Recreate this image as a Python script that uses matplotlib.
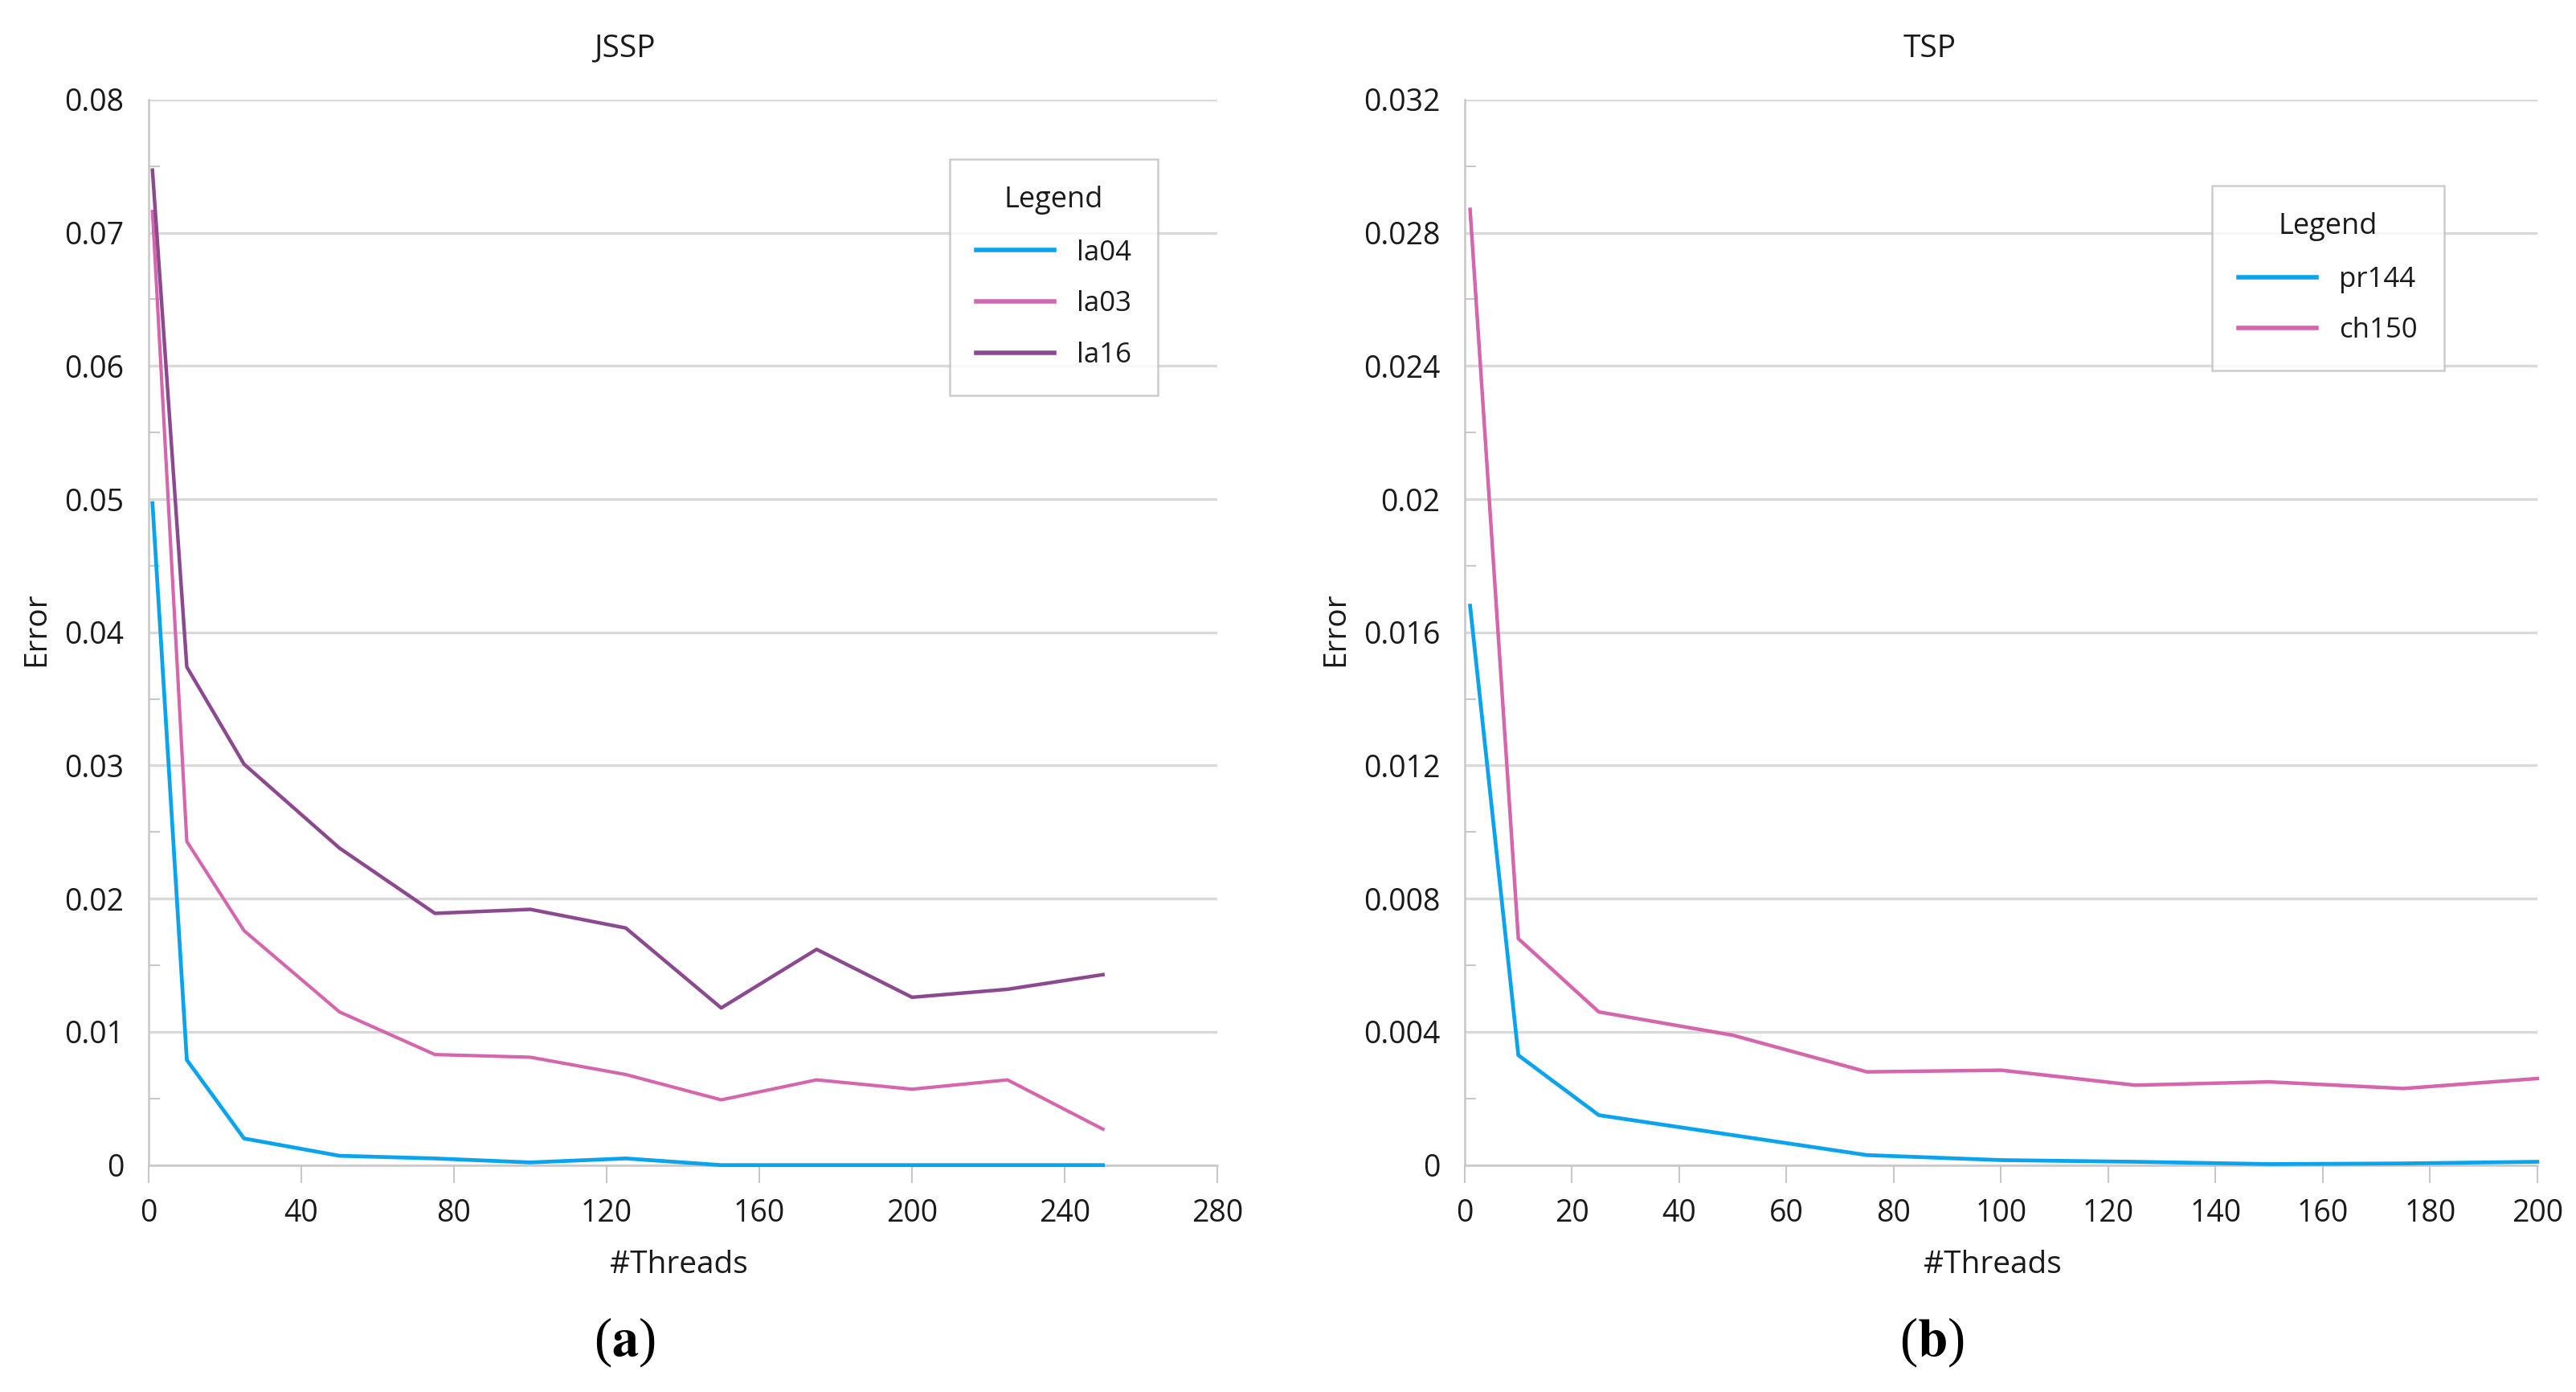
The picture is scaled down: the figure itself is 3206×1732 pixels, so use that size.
import matplotlib
matplotlib.use("Agg")
import matplotlib.pyplot as plt
from matplotlib.ticker import MultipleLocator

# ---- data ----
jssp_threads = [1, 10, 25, 50, 75, 100, 125, 150, 175, 200, 225, 250]
la04 = [0.0497, 0.0079, 0.0020, 0.0007, 0.0005, 0.0002, 0.0005, 0.0, 0.0, 0.0, 0.0, 0.0]
la03 = [0.0716, 0.0243, 0.0176, 0.0115, 0.0083, 0.0081, 0.0068, 0.0049, 0.0064, 0.0057, 0.0064, 0.0027]
la16 = [0.0747, 0.0374, 0.0301, 0.0238, 0.0189, 0.0192, 0.0178, 0.0118, 0.0162, 0.0126, 0.0132, 0.0143]

tsp_threads = [1, 10, 25, 50, 75, 100, 125, 150, 175, 200]
pr144 = [0.0168, 0.0033, 0.0015, 0.0009, 0.0003, 0.00015, 0.0001, 0.00003, 0.00005, 0.0001]
ch150 = [0.0287, 0.0068, 0.0046, 0.0039, 0.0028, 0.00285, 0.0024, 0.0025, 0.0023, 0.0026]

jssp_xticks = [0, 40, 80, 120, 160, 200, 240, 280]
jssp_yticks = [0, 0.01, 0.02, 0.03, 0.04, 0.05, 0.06, 0.07, 0.08]
jssp_ylabels = ["0", "0.01", "0.02", "0.03", "0.04", "0.05", "0.06", "0.07", "0.08"]
tsp_xticks = [0, 20, 40, 60, 80, 100, 120, 140, 160, 180, 200]
tsp_yticks = [0, 0.004, 0.008, 0.012, 0.016, 0.02, 0.024, 0.028, 0.032]
tsp_ylabels = ["0", "0.004", "0.008", "0.012", "0.016", "0.02", "0.024", "0.028", "0.032"]

BLUE = "#0aa3ee"
PINK = "#d565ac"
PURPLE = "#8d4990"
GRID = "#d9d9d9"
TXT = "#1a1a1a"

plt.rcParams["font.family"] = ["Open Sans", "DejaVu Sans"]
plt.rcParams["mathtext.fontset"] = "stix"

fig = plt.figure(figsize=(32.06, 17.32), dpi=100)
ax1 = fig.add_axes([0.0577, 0.163, 0.4149, 0.7655])
ax2 = fig.add_axes([0.5686, 0.163, 0.4164, 0.7655])


def style(ax, xticks, yticks, ylabels, minor):
    ax.set_xlim(xticks[0], xticks[-1])
    ax.set_ylim(yticks[0], yticks[-1])
    ax.set_xticks(xticks)
    ax.set_yticks(yticks)
    ax.set_yticklabels(ylabels)
    ax.yaxis.set_minor_locator(MultipleLocator(minor))
    ax.grid(axis="y", which="major", color=GRID, lw=2.4)
    ax.set_axisbelow(True)
    for s in ("top", "right"):
        ax.spines[s].set_visible(False)
    for s in ("left", "bottom"):
        ax.spines[s].set_color("#c8c8c8")
        ax.spines[s].set_linewidth(1.8)
    ax.tick_params(axis="x", direction="out", length=16, width=1.5,
                   color="#c8c8c8", labelsize=27, labelcolor=TXT, pad=14)
    ax.tick_params(axis="y", which="major", length=0, labelsize=27,
                   labelcolor=TXT, pad=22)
    ax.tick_params(axis="y", which="minor", direction="in", length=10,
                   width=1.5, color="#c8c8c8")


style(ax1, jssp_xticks, jssp_yticks, jssp_ylabels, 0.005)
style(ax2, tsp_xticks, tsp_yticks, tsp_ylabels, 0.002)

ax1.plot(jssp_threads, la04, color=BLUE, lw=3.4, label="la04", clip_on=False, zorder=3)
ax1.plot(jssp_threads, la03, color=PINK, lw=3.0, label="la03", clip_on=False, zorder=3)
ax1.plot(jssp_threads, la16, color=PURPLE, lw=3.2, label="la16", clip_on=False, zorder=3)

ax2.plot(tsp_threads, pr144, color=BLUE, lw=3.4, label="pr144", clip_on=False, zorder=3)
ax2.plot(tsp_threads, ch150, color=PINK, lw=3.2, label="ch150", clip_on=False, zorder=3)


def legend(ax, anchor):
    lg = ax.legend(title="Legend", loc="upper right", bbox_to_anchor=anchor,
                   fontsize=25, title_fontsize=26, frameon=True, fancybox=False,
                   handlelength=2.8, handletextpad=0.8, labelspacing=0.85,
                   borderpad=0.95, borderaxespad=0)
    lg._legend_box.sep = 22
    fr = lg.get_frame()
    fr.set_edgecolor("#c0c0c0")
    fr.set_linewidth(1.8)
    for t in lg.get_texts():
        t.set_color(TXT)
    lg.get_title().set_color(TXT)
    for h in lg.legend_handles:
        h.set_linewidth(4)
    return lg


legend(ax1, (0.944, 0.944))
legend(ax2, (0.913, 0.919))

fig.text(0.2424, 0.965, "JSSP", ha="center", va="center", fontsize=28, color=TXT)
fig.text(0.749, 0.965, "TSP", ha="center", va="center", fontsize=28, color=TXT)
fig.text(0.2634, 0.0912, "#Threads", ha="center", va="center", fontsize=28, color=TXT)
fig.text(0.7736, 0.0912, "#Threads", ha="center", va="center", fontsize=28, color=TXT)
fig.text(0.014, 0.548, "Error", ha="center", va="center", rotation=90, fontsize=28, color=TXT)
fig.text(0.5185, 0.548, "Error", ha="center", va="center", rotation=90, fontsize=28, color=TXT)

fig.text(0.2424, 0.0358, r"($\mathbf{a}$)", ha="center", va="center", fontsize=48,
         family="Liberation Serif", color="black")
fig.text(0.750, 0.0358, r"($\mathbf{b}$)", ha="center", va="center", fontsize=48,
         family="Liberation Serif", color="black")

fig.savefig("out.png", dpi=100, facecolor="white")
